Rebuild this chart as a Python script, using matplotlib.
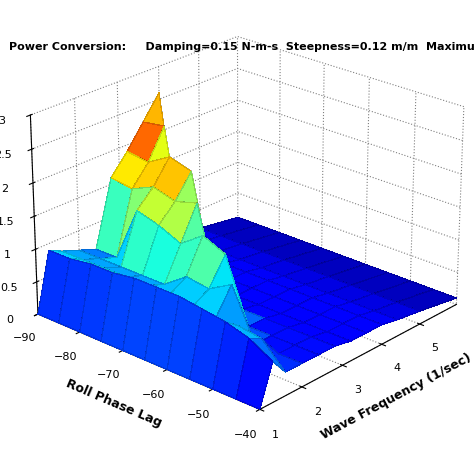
import numpy as np
import matplotlib
matplotlib.use("Agg")
import matplotlib.pyplot as plt

phases = [-90, -85, -80, -75, -70, -65, -60, -55, -50, -45, -40]
freqs = [1.0, 1.3, 1.6, 2.0, 2.4, 2.8, 3.2, 3.6, 4.0, 4.4, 5.0, 6.0]
# power in watts (rows: phases, cols: freqs)
power = [
    [0.0, 0.90, 0.80, 0.70, 0.60, 1.60, 1.90, 2.25, 2.60, 0.30, 0.20, 0.10],
    [0.0, 0.90, 0.80, 0.70, 0.60, 1.55, 1.85, 2.30, 0.30, 0.25, 0.20, 0.10],
    [0.0, 0.95, 0.80, 0.70, 1.45, 1.70, 2.05, 0.30, 0.30, 0.25, 0.20, 0.10],
    [0.0, 0.95, 0.80, 0.70, 1.35, 1.60, 1.95, 0.30, 0.30, 0.25, 0.20, 0.10],
    [0.0, 1.00, 0.80, 0.70, 1.20, 1.70, 0.35, 0.30, 0.30, 0.25, 0.20, 0.10],
    [0.0, 1.00, 0.80, 0.95, 1.45, 0.35, 0.30, 0.30, 0.30, 0.25, 0.20, 0.10],
    [0.0, 1.00, 0.75, 0.90, 1.30, 0.35, 0.30, 0.30, 0.30, 0.25, 0.20, 0.10],
    [0.0, 0.95, 0.70, 1.10, 0.35, 0.35, 0.30, 0.30, 0.30, 0.25, 0.20, 0.10],
    [0.0, 0.90, 0.75, 0.35, 0.35, 0.35, 0.30, 0.30, 0.30, 0.25, 0.20, 0.10],
    [0.0, 0.80, 0.70, 0.35, 0.35, 0.35, 0.30, 0.30, 0.30, 0.25, 0.20, 0.10],
    [0.0, 0.60, 0.35, 0.35, 0.35, 0.35, 0.30, 0.30, 0.30, 0.25, 0.20, 0.10],
]
P, F = np.meshgrid(phases, freqs, indexing="ij")
Z = np.array(power)

fig = plt.figure(figsize=(4.74, 4.74), dpi=100)
ax = fig.add_axes([-0.13, 0.05, 1.28, 0.98], projection="3d")
ax.set_box_aspect((1, 1, 0.72))
ax.plot_surface(P, F, Z, cmap="jet", vmin=0, vmax=2.6, linewidth=0.2, edgecolor=(0, 0, 0, 0.15),
                antialiased=False, rstride=1, cstride=1)
ax.view_init(elev=24, azim=-48)
ax.set_xlim(-90, -40)
ax.set_ylim(1, 6)
ax.set_zlim(0, 3)
ax.zaxis.set_ticks_position('lower')
ax.zaxis.set_label_position('lower')
ax.set_xticks([-90, -80, -70, -60, -50, -40])
ax.set_yticks([1, 2, 3, 4, 5])
ax.set_zticks([0, 0.5, 1, 1.5, 2, 2.5, 3])
ax.set_zticklabels(['0', '0.5', '1', '1.5', '2', '2.5', '3'])
ax.set_xlabel("Roll Phase Lag", fontweight="bold", fontsize=9)
ax.set_ylabel("Wave Frequency (1/sec)", fontweight="bold", fontsize=9)
for a in (ax.xaxis, ax.yaxis, ax.zaxis):
    a.set_pane_color((1, 1, 1, 1))
    a._axinfo["grid"]["linestyle"] = ":"
    a._axinfo["grid"]["color"] = "0.5"
ax.tick_params(labelsize=8)
fig.text(0.02, 0.895, "Power Conversion:     Damping=0.15 N-m-s  Steepness=0.12 m/m  Maximum=2.6 Watts",
         fontsize=8, fontweight="bold")
fig.savefig("out.png", dpi=100)
